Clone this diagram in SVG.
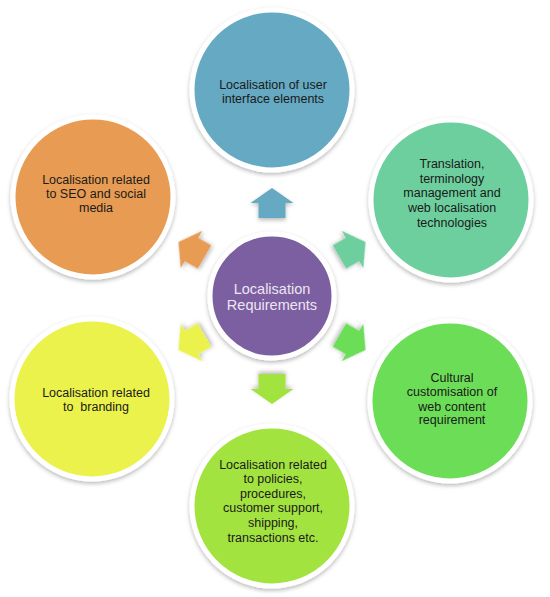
<svg xmlns="http://www.w3.org/2000/svg" width="550" height="597" viewBox="0 0 550 597">
  <defs>
    <filter id="sh" x="-20%" y="-20%" width="140%" height="140%">
      <feDropShadow dx="0" dy="2" stdDeviation="2" flood-color="#000" flood-opacity="0.28"/>
    </filter>
    <path id="arr" d="M0,-108 L21.5,-93 L13.5,-93 L13.5,-78 L-13.5,-78 L-13.5,-93 L-21.5,-93 Z"/>
  </defs>
  <style>
    .c { stroke: #ffffff; stroke-width: 5; filter: url(#sh); }
    .t { font-family: "Liberation Sans", Arial, sans-serif; font-size: 12.5px; fill: #1a1a1a; text-anchor: middle; }
    .ct { font-family: "Liberation Sans", Arial, sans-serif; font-size: 14.5px; fill: #ece6f4; text-anchor: middle; }
    .a { filter: url(#sh); }
  </style>
  <rect width="550" height="597" fill="#ffffff"/>

  <g id="connectors">
    <use href="#arr" class="a" fill="#65A9C3" transform="translate(272,296) rotate(0)"/>
    <use href="#arr" class="a" fill="#6DCF9E" transform="translate(272,296) rotate(60)"/>
    <use href="#arr" class="a" fill="#6CDD56" transform="translate(272,296) rotate(120)"/>
    <use href="#arr" class="a" fill="#A3E340" transform="translate(272,296) rotate(180)"/>
    <use href="#arr" class="a" fill="#EAF24B" transform="translate(272,296) rotate(240)"/>
    <use href="#arr" class="a" fill="#E89C52" transform="translate(272,296) rotate(300)"/>
  </g>

  <g id="node-center">
    <circle class="c" cx="272" cy="296" r="62" fill="#7B5EA0"/>
    <text class="ct" x="272" y="294">Localisation</text>
    <text class="ct" x="272" y="310">Requirements</text>
  </g>

  <g id="node-ui">
    <circle class="c" cx="272" cy="90" r="80" fill="#65A9C3"/>
    <text class="t" x="273" y="89">Localisation of user</text>
    <text class="t" x="273" y="103">interface elements</text>
  </g>

  <g id="node-translation">
    <circle class="c" cx="451" cy="200" r="80" fill="#6DCF9E"/>
    <text class="t" x="452" y="168">Translation,</text>
    <text class="t" x="452" y="183">terminology</text>
    <text class="t" x="452" y="197">management and</text>
    <text class="t" x="452" y="212">web localisation</text>
    <text class="t" x="452" y="227">technologies</text>
  </g>

  <g id="node-cultural">
    <circle class="c" cx="450" cy="401" r="80" fill="#6CDD56"/>
    <text class="t" x="452" y="382">Cultural</text>
    <text class="t" x="452" y="396">customisation of</text>
    <text class="t" x="452" y="411">web content</text>
    <text class="t" x="452" y="424">requirement</text>
  </g>

  <g id="node-policies">
    <circle class="c" cx="272" cy="506" r="80" fill="#A3E340"/>
    <text class="t" x="273" y="469">Localisation related</text>
    <text class="t" x="273" y="483">to policies,</text>
    <text class="t" x="273" y="498">procedures,</text>
    <text class="t" x="273" y="512">customer support,</text>
    <text class="t" x="273" y="527">shipping,</text>
    <text class="t" x="273" y="542">transactions etc.</text>
  </g>

  <g id="node-branding">
    <circle class="c" cx="92" cy="399" r="80" fill="#EAF24B"/>
    <text class="t" x="96" y="397">Localisation related</text>
    <text class="t" x="96" y="411" xml:space="preserve">to  branding</text>
  </g>

  <g id="node-seo">
    <circle class="c" cx="93" cy="197" r="80" fill="#E89C52"/>
    <text class="t" x="96" y="184">Localisation related</text>
    <text class="t" x="96" y="198">to SEO and social</text>
    <text class="t" x="96" y="212">media</text>
  </g>
</svg>
